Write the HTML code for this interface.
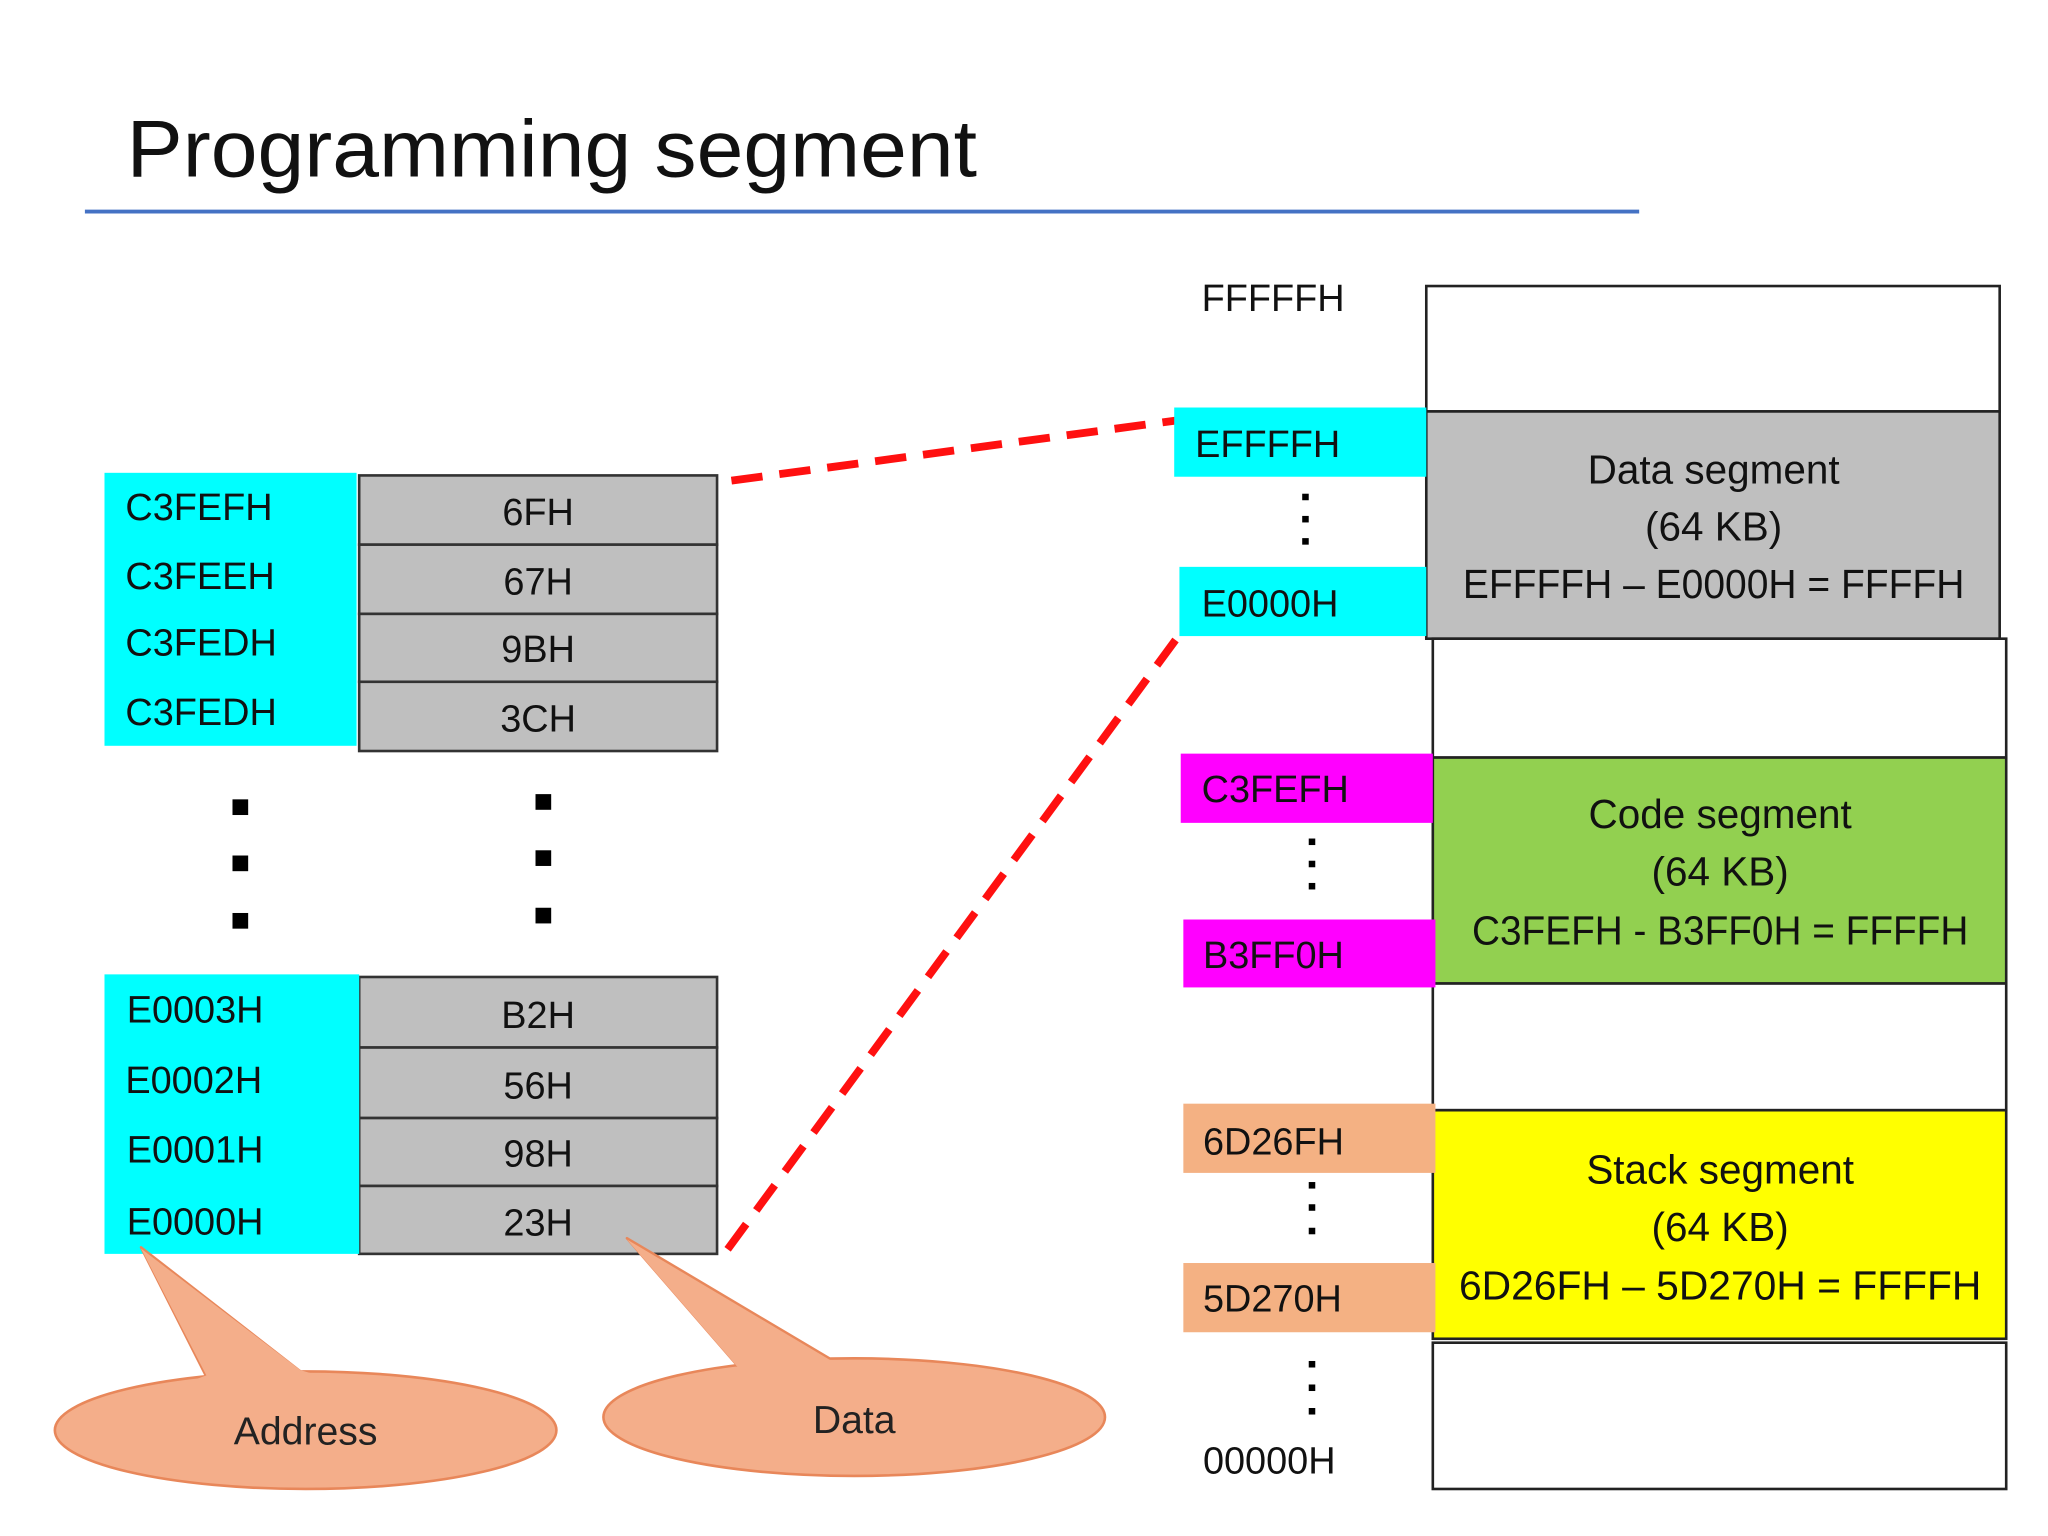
<!DOCTYPE html>
<html><head><style>html,body{margin:0;padding:0;background:#fff}svg{display:block}</style></head><body>
<svg width="2048" height="1536" viewBox="0 0 1568 1176" preserveAspectRatio="none" xmlns="http://www.w3.org/2000/svg" font-family="'Liberation Sans', sans-serif">
<text x="97" y="135" font-size="62" fill="#111" textLength="651" lengthAdjust="spacingAndGlyphs">Programming segment</text>
<line x1="65" y1="162" x2="1255" y2="162" stroke="#4472C4" stroke-width="3"/>
<g font-size="29" fill="#111">
<rect x="80" y="362" width="193" height="209" fill="#00FFFF"/>
<text x="96" y="398">C3FEFH</text><text x="96" y="451">C3FEEH</text><text x="96" y="502">C3FEDH</text><text x="96" y="555">C3FEDH</text>
<g fill="#BFBFBF" stroke="#333" stroke-width="2">
<rect x="275" y="364" width="274" height="53"/><rect x="275" y="417" width="274" height="53"/><rect x="275" y="470" width="274" height="52"/><rect x="275" y="522" width="274" height="53"/>
<rect x="275" y="748" width="274" height="54"/><rect x="275" y="802" width="274" height="54"/><rect x="275" y="856" width="274" height="52"/><rect x="275" y="908" width="274" height="52"/>
</g>
<g text-anchor="middle"><text x="412" y="402">6FH</text><text x="412" y="455">67H</text><text x="412" y="507">9BH</text><text x="412" y="560">3CH</text>
<text x="412" y="787">B2H</text><text x="412" y="841">56H</text><text x="412" y="893">98H</text><text x="412" y="946">23H</text></g>
<rect x="80" y="746" width="195" height="214" fill="#00FFFF"/>
<text x="97" y="783">E0003H</text><text x="96" y="837">E0002H</text><text x="97" y="890">E0001H</text><text x="97" y="945">E0000H</text>
<g fill="#000"><rect x="178" y="612" width="12" height="12"/><rect x="178" y="655" width="12" height="12"/><rect x="178" y="699" width="12" height="12"/>
<rect x="410" y="608" width="12" height="12"/><rect x="410" y="651" width="12" height="12"/><rect x="410" y="695" width="12" height="12"/></g>
</g>
<g fill="#F4AE8A" stroke="#E8875A" stroke-width="2">
<ellipse cx="234" cy="1095" rx="192" ry="45"/><ellipse cx="654" cy="1085" rx="192" ry="45"/>
</g>
<g fill="#F4AE8A" stroke="#E8875A" stroke-width="2" stroke-linejoin="round">
<path d="M158,1054 L108,955 L230,1050" />
<path d="M565,1046 L480,948 L635,1040" />
</g>
<path d="M150,1056 L240,1052 L230,1049 L108,956 L158,1053 Z" fill="#F4AE8A"/>
<path d="M555,1050 L645,1044 L635,1041 L480,949 L565,1047 Z" fill="#F4AE8A"/>
<text x="234" y="1106" font-size="30" text-anchor="middle" fill="#222">Address</text>
<text x="654" y="1097" font-size="30" text-anchor="middle" fill="#222">Data</text>
<g stroke="#FF1010" stroke-width="6" stroke-dasharray="24 13" fill="none">
<line x1="560" y1="368" x2="900" y2="322"/><line x1="900" y1="490" x2="556" y2="958"/></g>
<g stroke="#222" stroke-width="2">
<rect x="1092" y="219" width="439" height="96" fill="#fff"/>
<rect x="1092" y="315" width="439" height="174" fill="#BFBFBF"/>
<rect x="1097" y="489" width="439" height="91" fill="#fff"/>
<rect x="1097" y="580" width="439" height="173" fill="#92D050"/>
<rect x="1097" y="753" width="439" height="97" fill="#fff"/>
<rect x="1097" y="850" width="439" height="175" fill="#FFFF00"/>
<rect x="1097" y="1028" width="439" height="112" fill="#fff"/>
</g>
<g font-size="31" fill="#111" text-anchor="middle">
<text x="1312" y="370">Data segment</text><text x="1312" y="414">(64 KB)</text><text x="1312" y="458" textLength="384" lengthAdjust="spacingAndGlyphs">EFFFFH – E0000H = FFFFH</text>
<text x="1317" y="634">Code segment</text><text x="1317" y="678">(64 KB)</text><text x="1317" y="723" textLength="380" lengthAdjust="spacingAndGlyphs">C3FEFH - B3FF0H = FFFFH</text>
<text x="1317" y="906">Stack segment</text><text x="1317" y="950">(64 KB)</text><text x="1317" y="995" textLength="400" lengthAdjust="spacingAndGlyphs">6D26FH – 5D270H = FFFFH</text>
</g>
<rect x="899" y="312" width="193" height="53" fill="#00FFFF"/>
<rect x="903" y="434" width="189" height="53" fill="#00FFFF"/>
<rect x="904" y="577" width="193" height="53" fill="#FF00FF"/>
<rect x="906" y="704" width="193" height="52" fill="#FF00FF"/>
<rect x="906" y="845" width="193" height="53" fill="#F4B183"/>
<rect x="906" y="967" width="193" height="53" fill="#F4B183"/>
<g font-size="29" fill="#111">
<text x="920" y="238">FFFFFH</text><text x="915" y="350">EFFFFH</text><text x="920" y="472">E0000H</text>
<text x="920" y="614">C3FEFH</text><text x="921" y="741">B3FF0H</text><text x="921" y="884">6D26FH</text><text x="921" y="1004">5D270H</text><text x="921" y="1128">00000H</text>
</g>
<g fill="#000">
<rect x="997" y="378" width="5" height="5"/><rect x="997" y="395" width="5" height="5"/><rect x="997" y="412" width="5" height="5"/>
<rect x="1002" y="642" width="5" height="5"/><rect x="1002" y="659" width="5" height="5"/><rect x="1002" y="676" width="5" height="5"/>
<rect x="1002" y="905" width="5" height="5"/><rect x="1002" y="922" width="5" height="5"/><rect x="1002" y="940" width="5" height="5"/>
<rect x="1002" y="1042" width="5" height="5"/><rect x="1002" y="1060" width="5" height="5"/><rect x="1002" y="1078" width="5" height="5"/>
</g>
</svg>
</body></html>
